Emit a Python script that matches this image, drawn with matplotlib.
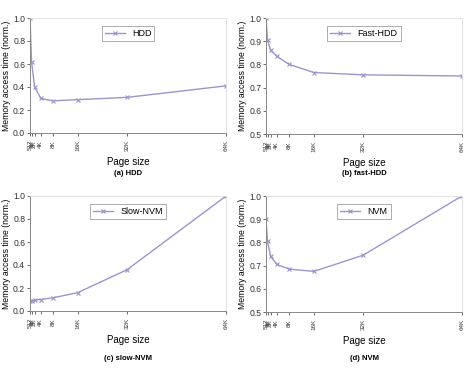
import matplotlib
matplotlib.use("Agg")
import matplotlib.pyplot as plt

# page size in KB and normalised memory access time per device
page_kb = [0.5, 1, 2, 4, 8, 16, 32, 64]
page_labels = ["512", "1K", "2K", "4K", "8K", "16K", "32K", "64K"]

hdd = [1.0, 0.62, 0.40, 0.30, 0.28, 0.29, 0.31, 0.41]
fast_hdd = [1.0, 0.905, 0.86, 0.835, 0.80, 0.765, 0.755, 0.75]
slow_nvm = [0.085, 0.09, 0.095, 0.10, 0.115, 0.16, 0.36, 1.0]
nvm = [0.90, 0.805, 0.74, 0.705, 0.685, 0.675, 0.745, 1.0]

panels = [
    (hdd, "HDD", "(a) HDD", (0.0, 1.0), [0.0, 0.2, 0.4, 0.6, 0.8, 1.0]),
    (fast_hdd, "Fast-HDD", "(b) fast-HDD", (0.5, 1.0), [0.5, 0.6, 0.7, 0.8, 0.9, 1.0]),
    (slow_nvm, "Slow-NVM", "(c) slow-NVM", (0.0, 1.0), [0.0, 0.2, 0.4, 0.6, 0.8, 1.0]),
    (nvm, "NVM", "(d) NVM", (0.5, 1.0), [0.5, 0.6, 0.7, 0.8, 0.9, 1.0]),
]

W, H = 474, 371
fig = plt.figure(figsize=(W / 100, H / 100), dpi=100)
plt.rcParams["font.family"] = ["Liberation Sans", "DejaVu Sans"]

# axes boxes in pixels: left, top, right, bottom, caption y
boxes = [(30, 18, 226, 133, 174), (266, 18, 462, 134, 174),
         (30, 196, 226, 311, 358), (266, 196, 462, 312, 358)]

line_col = "#9a96cc"
for (vals, name, caption, ylim, yticks), (l, t, r, b, cy) in zip(panels, boxes):
    ax = fig.add_axes([l / W, 1 - b / H, (r - l) / W, (b - t) / H])
    ax.plot(page_kb, vals, color=line_col, lw=1.0, marker="x", ms=3,
            mew=0.8, label=name)
    ax.set_xlim(0.5, 64)
    ax.set_ylim(*ylim)
    ax.set_yticks(yticks)
    ax.set_yticklabels([f"{v:.1f}" for v in yticks], fontsize=6.2)
    ax.set_xticks(page_kb)
    ax.set_xticklabels(page_labels, rotation=90, fontsize=4.5)
    ax.tick_params(length=2, width=0.5, colors="#333333", pad=1.5)
    ax.tick_params(axis="x", pad=3)
    for s in ["left", "bottom"]:
        ax.spines[s].set_color("#888888")
        ax.spines[s].set_linewidth(0.7)
    for s in ["top", "right"]:
        ax.spines[s].set_color("#dddddd")
        ax.spines[s].set_linewidth(0.6)
    ax.set_ylabel("Memory access time (norm.)", fontsize=6.2, labelpad=1.5)
    ax.set_xlabel("Page size", fontsize=7, labelpad=4)
    leg = ax.legend(loc="upper center", fontsize=6.5, frameon=True, fancybox=False,
                    handlelength=2.2, borderpad=0.35, bbox_to_anchor=(0.5, 0.97))
    leg.get_frame().set_edgecolor("#888888")
    leg.get_frame().set_linewidth(0.6)
    fig.text((l + r) / 2 / W, 1 - cy / H, caption, ha="center",
             va="center", fontsize=5.5, fontweight="bold")

fig.savefig("out.png", dpi=100)
